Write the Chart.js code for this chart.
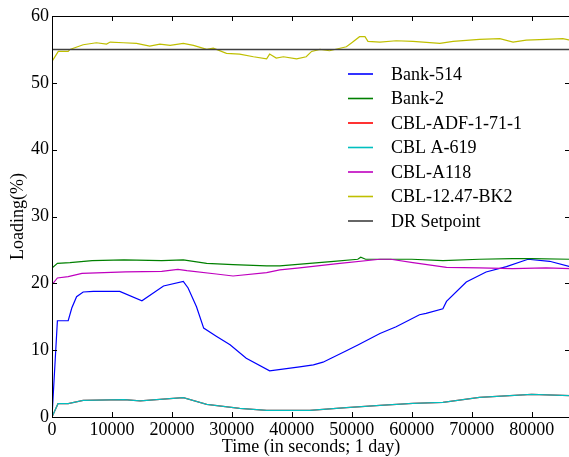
<!DOCTYPE html>
<html>
<head>
<meta charset="utf-8">
<script src="https://cdn.jsdelivr.net/npm/chart.js@4.4.1/dist/chart.umd.min.js"></script>
<style>
  html, body { margin: 0; padding: 0; overflow: hidden; background: #fff; }
  #wrap { width: 571px; height: 457px; position: relative; }
</style>
</head>
<body>
<div id="wrap"><canvas id="chart"></canvas></div>
<script>
// values (time in seconds, loading in %)
var bank514Times = [0, 900, 2700, 3300, 4100, 5200, 6900, 11300, 15000, 18600, 21900, 22700, 24100, 25300, 27400, 29700, 32400, 36300, 41300, 43600, 45200, 49100, 51100, 54700, 57400, 61300, 62400, 65200, 65800, 69100, 72400, 75800, 79400, 83000, 86400];
var bank514Values = [0, 14.4, 14.4, 16.3, 18.0, 18.7, 18.8, 18.8, 17.4, 19.6, 20.3, 19.3, 16.5, 13.3, 12.1, 10.8, 8.8, 6.9, 7.5, 7.8, 8.2, 9.9, 10.8, 12.5, 13.5, 15.3, 15.5, 16.2, 17.3, 20.2, 21.7, 22.5, 23.6, 23.3, 22.5];

var bank2Times = [0, 900, 3000, 6700, 12000, 18300, 21900, 25800, 30200, 35800, 38000, 43000, 47000, 51000, 51500, 52300, 54700, 60000, 65200, 71300, 76800, 80000, 86400];
var bank2Values = [22.3, 23.0, 23.1, 23.4, 23.5, 23.4, 23.5, 23.0, 22.8, 22.6, 22.6, 23.0, 23.3, 23.6, 23.9, 23.6, 23.6, 23.6, 23.4, 23.6, 23.7, 23.7, 23.6];

var cblAdfTimes = [0, 1000, 2700, 5200, 12000, 14700, 20200, 21900, 25800, 31300, 35800, 43000, 49100, 54700, 60200, 65200, 71300, 80000, 86400];
var cblAdfValues = [0, 2.0, 2.0, 2.5, 2.6, 2.4, 2.8, 2.9, 1.9, 1.3, 1.0, 1.0, 1.4, 1.75, 2.05, 2.2, 2.95, 3.4, 3.2];

var cblA619Times = [0, 1000, 2700, 5200, 12000, 14700, 20200, 21900, 25800, 31300, 35800, 43000, 49100, 54700, 60200, 65200, 71300, 80000, 86400];
var cblA619Values = [0, 2.0, 2.0, 2.5, 2.6, 2.4, 2.8, 2.9, 1.9, 1.3, 1.0, 1.0, 1.4, 1.75, 2.05, 2.2, 2.95, 3.4, 3.2];

var cblA118Times = [0, 900, 2700, 5000, 12300, 18300, 21000, 22500, 27400, 30200, 35800, 38000, 41300, 48000, 54700, 56500, 60200, 65800, 71300, 76800, 82400, 86400];
var cblA118Values = [19.8, 20.8, 21.0, 21.5, 21.7, 21.8, 22.1, 21.9, 21.4, 21.1, 21.6, 22.0, 22.3, 23.0, 23.6, 23.6, 23.1, 22.4, 22.3, 22.2, 22.3, 22.2];

var cblBk2Times = [0, 1050, 2700, 3000, 5200, 7400, 9100, 9700, 11900, 14100, 16300, 18000, 19700, 21900, 23600, 25800, 26900, 29100, 31300, 33600, 35800, 36300, 37400, 38600, 40800, 42400, 43300, 44700, 46300, 49100, 50000, 51300, 52200, 52700, 54700, 57400, 60200, 64700, 66900, 71300, 74700, 76900, 79100, 82400, 85200, 86400];
var cblBk2Values = [53.2, 54.7, 54.7, 55.0, 55.7, 56.0, 55.8, 56.1, 56.0, 55.9, 55.5, 55.8, 55.6, 55.9, 55.6, 55.0, 55.2, 54.4, 54.3, 53.9, 53.6, 54.3, 53.7, 53.9, 53.6, 53.9, 54.7, 55.0, 54.8, 55.4, 56.0, 56.9, 56.9, 56.2, 56.1, 56.3, 56.2, 55.9, 56.2, 56.5, 56.6, 56.1, 56.4, 56.5, 56.6, 56.4];

var setpointTimes = [0, 86400];
var setpointValues = [55, 55];

var seriesLabels = ['Bank-514', 'Bank-2', 'CBL-ADF-1-71-1', 'CBL A-619', 'CBL-A118', 'CBL-12.47-BK2', 'DR Setpoint'];
var seriesColors = ['#0000ff', '#008000', '#ff0000', '#00bfbf', '#bf00bf', '#bfbf00', '#404040'];
var seriesTimes = [bank514Times, bank2Times, cblAdfTimes, cblA619Times, cblA118Times, cblBk2Times, setpointTimes];
var seriesValues = [bank514Values, bank2Values, cblAdfValues, cblA619Values, cblA118Values, cblBk2Values, setpointValues];

var xTicks = [0, 10000, 20000, 30000, 40000, 50000, 60000, 70000, 80000];
var yTicks = [0, 10, 20, 30, 40, 50, 60];

var FONT = 'Liberation Serif';

function toPoints(times, values) {
  return times.map(function (t, i) { return { x: t, y: values[i] }; });
}

var datasets = seriesLabels.map(function (label, i) {
  return {
    label: label,
    data: toPoints(seriesTimes[i], seriesValues[i]),
    borderColor: seriesColors[i],
    borderWidth: i === 6 ? 1.5 : 1.2,
    pointRadius: 0,
    tension: 0,
    fill: false,
    // matplotlib draws later lines on top
    order: seriesLabels.length - 1 - i
  };
});

// frame + inward ticks on all four sides
var framePlugin = {
  id: 'frame',
  afterDatasetsDraw: function (chart) {
    var ctx = chart.ctx, a = chart.chartArea;
    var xs = chart.scales.x, ys = chart.scales.y;
    var len = 5;
    ctx.save();
    ctx.strokeStyle = '#000';
    ctx.lineWidth = 1;
    ctx.beginPath();
    xTicks.forEach(function (v) {
      var px = Math.round(xs.getPixelForValue(v)) + 0.5;
      ctx.moveTo(px, a.bottom); ctx.lineTo(px, a.bottom - len);
      ctx.moveTo(px, a.top); ctx.lineTo(px, a.top + len);
    });
    yTicks.forEach(function (v) {
      var py = Math.round(ys.getPixelForValue(v)) + 0.5;
      ctx.moveTo(a.left, py); ctx.lineTo(a.left + len, py);
      ctx.moveTo(a.right, py); ctx.lineTo(a.right - len, py);
    });
    ctx.stroke();
    ctx.strokeRect(Math.round(a.left) + 0.5, Math.round(a.top) + 0.5,
      Math.round(a.right - a.left), Math.round(a.bottom - a.top));
    ctx.restore();
  }
};

// legend without frame, inside the upper right of the axes
var legendPlugin = {
  id: 'innerLegend',
  afterDraw: function (chart) {
    var ctx = chart.ctx, a = chart.chartArea;
    var x0 = a.left + 296, y0 = a.top + 58, step = 24.5;
    ctx.save();
    ctx.font = '18px "' + FONT + '"';
    ctx.textBaseline = 'middle';
    ctx.textAlign = 'left';
    chart.data.datasets.forEach(function (ds, i) {
      var y = y0 + i * step;
      ctx.strokeStyle = ds.borderColor;
      ctx.lineWidth = 1.6;
      ctx.beginPath();
      ctx.moveTo(x0, y); ctx.lineTo(x0 + 25, y);
      ctx.stroke();
      ctx.fillStyle = '#000';
      ctx.fillText(ds.label, x0 + 43, y + 1);
    });
    ctx.restore();
  }
};

function fixedTicks(list) {
  return function (scale) {
    scale.ticks = list.map(function (v) { return { value: v }; });
  };
}

new Chart(document.getElementById('chart'), {
  type: 'line',
  data: { datasets: datasets },
  plugins: [framePlugin, legendPlugin],
  options: {
    responsive: true,
    maintainAspectRatio: false,
    devicePixelRatio: 1,
    animation: false,
    layout: { padding: { top: 16, right: 1, bottom: 0, left: 0 } },
    plugins: { legend: { display: false }, tooltip: { enabled: false } },
    scales: {
      x: {
        type: 'linear',
        min: 0,
        max: 86400,
        grid: { display: false, drawTicks: false },
        border: { display: false },
        afterBuildTicks: fixedTicks(xTicks),
        ticks: {
          autoSkip: false,
          maxRotation: 0,
          padding: 2,
          color: '#000',
          font: { family: FONT, size: 18 },
          callback: function (v) { return String(v); }
        },
        title: {
          display: true,
          text: 'Time (in seconds; 1 day)',
          color: '#000',
          font: { family: FONT, size: 18 },
          padding: { top: 0, bottom: -1 }
        },
        afterFit: function (scale) { scale.height = 40; }
      },
      y: {
        min: 0,
        max: 60,
        grid: { display: false, drawTicks: false },
        border: { display: false },
        afterBuildTicks: fixedTicks(yTicks),
        ticks: {
          autoSkip: false,
          padding: 3,
          color: '#000',
          font: { family: FONT, size: 18 }
        },
        title: {
          display: true,
          text: 'Loading(%)',
          color: '#000',
          font: { family: FONT, size: 18 },
          padding: { top: 7, bottom: 0 }
        },
        afterFit: function (scale) { scale.width = 52; }
      }
    }
  }
});
</script>
</body>
</html>
